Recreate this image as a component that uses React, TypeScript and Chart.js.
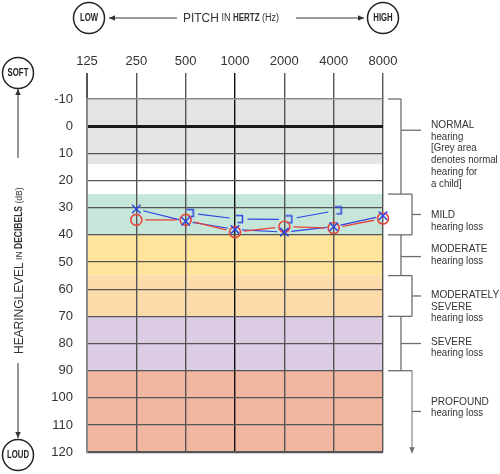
import React, { useEffect, useRef } from "react";
import { Chart, registerables } from "chart.js";

Chart.register(...registerables);

// ---------- data ----------
const FREQUENCIES = ["125", "250", "500", "1000", "2000", "4000", "8000"];
const DB_MIN = -10;
const DB_MAX = 120;
const DB_STEP = 10;

// blue X (air conduction)
const LEFT_X = [null, 30.5, 35, 38, 39, 37, 33];
// red O (air conduction)
const RIGHT_O = [null, 34.5, 34.5, 39, 37, 37.5, 34];
// blue ] (bone conduction)
const BONE = [null, null, 32, 34.2, 34.3, 31, null];

// background bands (dB from / to)
const BAND_FROM = [-10, 25, 40, 55, 70, 90];
const BAND_TO = [14, 40, 55, 70, 90, 120];
const BAND_COLORS = ["#e5e5e7", "#c6e6da", "#fee59b", "#fddaa9", "#dccde4", "#f1b6a0"];

// hearing-loss categories on the right
const LOSS_TEXT = [
  ["NORMAL", "hearing", "[Grey area", "denotes normal", "hearing for", "a child]"],
  ["MILD", "hearing loss"],
  ["MODERATE", "hearing loss"],
  ["MODERATELY", "SEVERE", "hearing loss"],
  ["SEVERE", "hearing loss"],
  ["PROFOUND", "hearing loss"],
];
const LOSS_FROM = [-10, 25, 40, 55, 70, 90];
const LOSS_TO = [25, 40, 55, 70, 90, 120];
const LOSS_CONNECT = [1.5, 32.5, 48, 62.5, 80, 105];
const LOSS_TEXT_TOP = [-0.5, 32.6, 45.2, 62, 79.2, 101.4];
const LOSS_INNER = [false, true, false, true, false, true];

const BLUE = "#2f45e3";
const RED = "#e8453c";
const FONT = '"Liberation Sans", Arial, sans-serif';

export default function App() {
  const ref = useRef<HTMLCanvasElement>(null);

  useEffect(() => {
    document.body.style.margin = "0";
    const canvas = ref.current!;

    // bracket marker "]" drawn to the right of the point
    const bracketImg = document.createElement("canvas");
    bracketImg.width = 18;
    bracketImg.height = 10;
    const b = bracketImg.getContext("2d")!;
    b.strokeStyle = BLUE;
    b.lineWidth = 1.5;
    b.beginPath();
    b.moveTo(10, 1.5);
    b.lineTo(16.5, 1.5);
    b.lineTo(16.5, 8.5);
    b.lineTo(11.5, 8.5);
    b.stroke();

    const bandsPlugin = {
      id: "bands",
      beforeDraw(chart: any) {
        const { ctx, chartArea } = chart;
        const ys = chart.scales.y;
        ctx.save();
        BAND_FROM.forEach((f, i) => {
          const y1 = ys.getPixelForValue(f);
          const y2 = ys.getPixelForValue(BAND_TO[i]);
          ctx.fillStyle = BAND_COLORS[i];
          ctx.fillRect(chartArea.left, y1, chartArea.right - chartArea.left, y2 - y1);
        });
        ctx.restore();
      },
    };

    const linkSets = [
      { data: LEFT_X, color: BLUE, gap: 7, off: 0, width: 1.2 },
      { data: BONE, color: BLUE, gap: 9, off: 3.5, width: 1.2 },
      { data: RIGHT_O, color: RED, gap: 9, off: 0, width: 1.3 },
    ];

    const linksPlugin = {
      id: "links",
      beforeDatasetsDraw(chart: any) {
        const { ctx } = chart;
        const xs = chart.scales.x;
        const ys = chart.scales.y;
        ctx.save();
        linkSets.forEach((s) => {
          ctx.strokeStyle = s.color;
          ctx.lineWidth = s.width;
          for (let j = 0; j < s.data.length - 1; j++) {
            const a = s.data[j];
            const c = s.data[j + 1];
            if (a == null || c == null) continue;
            const x1 = xs.getPixelForValue(j) + s.off;
            const y1 = ys.getPixelForValue(a);
            const x2 = xs.getPixelForValue(j + 1) + s.off;
            const y2 = ys.getPixelForValue(c);
            const len = Math.hypot(x2 - x1, y2 - y1);
            const ux = (x2 - x1) / len;
            const uy = (y2 - y1) / len;
            ctx.beginPath();
            ctx.moveTo(x1 + ux * s.gap, y1 + uy * s.gap);
            ctx.lineTo(x2 - ux * s.gap, y2 - uy * s.gap);
            ctx.stroke();
          }
        });
        ctx.restore();
      },
    };

    // text drawn horizontally condensed
    const condText = (ctx: CanvasRenderingContext2D, t: string, x: number, y: number, sx: number) => {
      ctx.save();
      ctx.translate(x, y);
      ctx.scale(sx, 1);
      ctx.fillText(t, 0, 0);
      ctx.restore();
      return ctx.measureText(t).width * sx;
    };

    const circleLabel = (ctx: CanvasRenderingContext2D, x: number, y: number, text: string) => {
      ctx.beginPath();
      ctx.arc(x, y, 15.5, 0, Math.PI * 2);
      ctx.strokeStyle = "#222";
      ctx.lineWidth = 1.5;
      ctx.stroke();
      ctx.fillStyle = "#222";
      ctx.font = "bold 10px " + FONT;
      ctx.textAlign = "left";
      ctx.textBaseline = "middle";
      const w = ctx.measureText(text).width * 0.78;
      condText(ctx, text, x - w / 2, y + 0.5, 0.78);
    };

    const arrowLine = (ctx: CanvasRenderingContext2D, x1: number, y1: number, x2: number, y2: number, color: string) => {
      ctx.strokeStyle = color;
      ctx.fillStyle = color;
      ctx.lineWidth = 1;
      ctx.beginPath();
      ctx.moveTo(x1, y1);
      ctx.lineTo(x2, y2);
      ctx.stroke();
      const ang = Math.atan2(y2 - y1, x2 - x1);
      const L = 6;
      const W = 2.8;
      ctx.beginPath();
      ctx.moveTo(x2, y2);
      ctx.lineTo(x2 - L * Math.cos(ang) - W * Math.sin(ang), y2 - L * Math.sin(ang) + W * Math.cos(ang));
      ctx.lineTo(x2 - L * Math.cos(ang) + W * Math.sin(ang), y2 - L * Math.sin(ang) - W * Math.cos(ang));
      ctx.closePath();
      ctx.fill();
    };

    const drawPieces = (ctx: CanvasRenderingContext2D, x: number, y: number, pieces: [string, string, number][]) => {
      let cx = x;
      ctx.textAlign = "left";
      ctx.textBaseline = "middle";
      pieces.forEach(([t, f, sx]) => {
        ctx.font = f;
        cx += condText(ctx, t, cx, y, sx);
      });
      return cx;
    };

    const decorPlugin = {
      id: "decor",
      afterDraw(chart: any) {
        const { ctx, chartArea } = chart;
        const ys = chart.scales.y;
        ctx.save();

        // top title
        circleLabel(ctx, 89, 18, "LOW");
        circleLabel(ctx, 383, 18, "HIGH");
        arrowLine(ctx, 177, 18, 109, 18, "#333");
        arrowLine(ctx, 296, 18, 364, 18, "#333");
        ctx.fillStyle = "#333";
        drawPieces(ctx, 183, 18, [
          ["PITCH", "13px " + FONT, 0.92],
          [" IN ", "10px " + FONT, 0.9],
          ["HERTZ", "bold 10px " + FONT, 0.8],
          [" (Hz)", "10px " + FONT, 0.9],
        ]);

        // left title
        circleLabel(ctx, 18, 73, "SOFT");
        circleLabel(ctx, 18, 455, "LOUD");
        arrowLine(ctx, 18, 158, 18, 89, "#333");
        arrowLine(ctx, 18, 363, 18, 438, "#333");
        ctx.save();
        ctx.translate(19, 354);
        ctx.rotate(-Math.PI / 2);
        ctx.fillStyle = "#333";
        drawPieces(ctx, 0, 0, [
          ["HEARINGLEVEL", "13px " + FONT, 0.92],
          [" IN ", "9.5px " + FONT, 0.9],
          ["DECIBELS", "bold 10px " + FONT, 0.85],
          [" (dB)", "9.5px " + FONT, 0.9],
        ]);
        ctx.restore();

        // right brackets
        const R = chartArea.right;
        const x0 = R + 5;
        const xa = R + 18;
        const xb = R + 29;
        const xc = R + 38;
        const xt = R + 48;
        ctx.strokeStyle = "#6e6e6e";
        ctx.lineWidth = 1.3;
        const seg = (ax: number, ay: number, bx: number, by: number) => {
          ctx.beginPath();
          ctx.moveTo(ax, ay);
          ctx.lineTo(bx, by);
          ctx.stroke();
        };
        LOSS_FROM.forEach((f, i) => {
          const yf = ys.getPixelForValue(f);
          const yt = ys.getPixelForValue(LOSS_TO[i]);
          const yc = ys.getPixelForValue(LOSS_CONNECT[i]);
          const last = i === LOSS_FROM.length - 1;
          ctx.strokeStyle = "#6e6e6e";
          ctx.lineWidth = 1.3;
          if (LOSS_INNER[i]) {
            seg(x0, yf, xb, yf);
            if (!last) {
              seg(x0, yt, xb, yt);
              seg(xb, yf, xb, yt);
            } else {
              arrowLine(ctx, xb, yf, xb, yt + 1, "#6e6e6e");
              ctx.lineWidth = 1.3;
            }
            seg(xb, yc, xc, yc);
          } else {
            if (i === 0) seg(x0, yf, xa, yf);
            seg(xa, yf, xa, yt);
            seg(xa, yc, xc, yc);
          }
          // texts
          ctx.fillStyle = "#333";
          ctx.textAlign = "left";
          ctx.textBaseline = "middle";
          const y0 = ys.getPixelForValue(LOSS_TEXT_TOP[i]);
          LOSS_TEXT[i].forEach((t, k) => {
            const upper = t === t.toUpperCase();
            ctx.font = (upper ? "11.5px " : "11px ") + FONT;
            condText(ctx, t, xt, y0 + k * 11.8, upper ? 0.88 : 0.88);
          });
        });

        ctx.restore();
      },
    };

    const chart = new Chart(canvas, {
      type: "line",
      data: {
        labels: FREQUENCIES,
        datasets: [
          {
            label: "X",
            data: LEFT_X,
            showLine: false,
            pointStyle: "crossRot",
            pointRadius: 6,
            pointBorderWidth: 1.5,
            borderColor: BLUE,
            backgroundColor: BLUE,
          },
          {
            label: "O",
            data: RIGHT_O,
            showLine: false,
            pointStyle: "circle",
            pointRadius: 5.5,
            pointBorderWidth: 1.6,
            borderColor: RED,
            backgroundColor: "rgba(0,0,0,0)",
          },
          {
            label: "]",
            data: BONE,
            showLine: false,
            pointStyle: bracketImg as any,
            pointRadius: 5,
            borderColor: BLUE,
            backgroundColor: BLUE,
          },
        ],
      },
      options: {
        responsive: false,
        animation: false,
        layout: { padding: { left: 0, right: 117, top: 0, bottom: 12 } },
        plugins: { legend: { display: false }, tooltip: { enabled: false } },
        scales: {
          x: {
            type: "category",
            position: "top",
            offset: false,
            grid: {
              offset: false,
              drawTicks: true,
              tickLength: 26,
              color: (c: any) => (c.index === 3 ? "#111" : "#555"),
              lineWidth: (c: any) => (c.index === 0 ? 2 : 1.4),
            },
            border: { display: true, color: "#888", width: 1.3 },
            ticks: {
              color: "#333",
              font: { family: FONT, size: 13 },
              padding: 4,
              maxRotation: 0,
              autoSkip: false,
            },
            afterFit: (axis: any) => {
              axis.height = 99;
            },
          },
          y: {
            type: "linear",
            reverse: true,
            min: DB_MIN,
            max: DB_MAX,
            grid: {
              drawTicks: false,
              color: (c: any) => (c.tick && c.tick.value === 0 ? "#1a1a1a" : c.tick && c.tick.value === -10 ? "#888" : "#555"),
              lineWidth: (c: any) =>
                c.tick && c.tick.value === 0 ? 3 : c.tick && c.tick.value === DB_MAX ? 2.2 : 1.3,
            },
            border: { display: true, color: "#8a8a8a", width: 2 },
            ticks: {
              stepSize: DB_STEP,
              color: "#333",
              font: { family: FONT, size: 13 },
              padding: 14,
            },
            afterFit: (axis: any) => {
              axis.width = 87;
            },
          },
        },
      },
      plugins: [bandsPlugin, linksPlugin, decorPlugin],
    });

    return () => chart.destroy();
  }, []);

  return (
    <div style={{ position: "absolute", left: 0, top: 0, width: 500, height: 474, background: "#fff" }}>
      <canvas ref={ref} width={500} height={474} style={{ width: 500, height: 474, display: "block" }} />
    </div>
  );
}
